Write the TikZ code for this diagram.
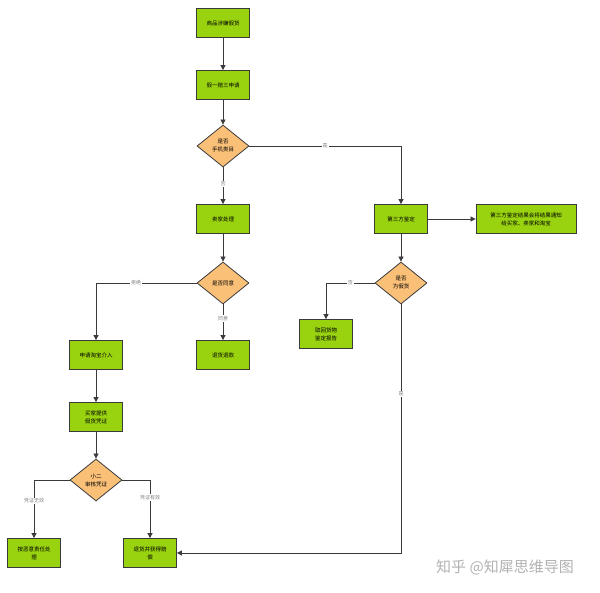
\documentclass[tikz,border=0pt]{standalone}
\usepackage{fontspec}
\setmainfont{Noto Sans CJK SC}
\usetikzlibrary{shapes.geometric,arrows.meta}
\definecolor{boxg}{HTML}{99D30F}
\definecolor{dia}{HTML}{FAC078}
\definecolor{ln}{HTML}{3A3A3A}
\tikzset{
 box/.style={draw=ln,line width=0.8pt,fill=boxg,minimum width=53pt,minimum height=29pt,align=center,font=\fontsize{5.5}{8}\selectfont,inner sep=1pt},
 dec/.style={draw=ln,line width=0.8pt,fill=dia,diamond,aspect=1.25,minimum width=52pt,minimum height=42pt,inner sep=0pt,align=center,font=\fontsize{5.5}{8}\selectfont},
 arr/.style={draw=ln,line width=0.7pt,-{Triangle[length=5pt,width=5pt]}},
 lab/.style={fill=white,inner sep=1pt,text=gray,font=\fontsize{5}{6}\selectfont}
}
\begin{document}
\begin{tikzpicture}[x=1pt,y=-1pt]
\useasboundingbox (0,0) rectangle (600,592);
\node[box] (a) at (223,23) {商品涉嫌假货};
\node[box] (b) at (223,85) {假一赔三申请};
\node[dec] (d1) at (223,146) {是否\\手机类目};
\node[box] (c) at (223,219) {卖家处理};
\node[dec] (d2) at (223,283) {是否同意};
\node[box] (r) at (223,355) {退货退款};
\node[box] (t) at (96,355) {申请淘宝介入};
\node[box] (p) at (96,417) {买家提供\\假货凭证};
\node[dec] (d3) at (96,480) {小二\\审核凭证};
\node[box] (f) at (34,553) {按恶意责任处\\理};
\node[box] (g) at (150,553) {退货并获得赔\\偿};
\node[box] (s) at (401,219) {第三方鉴定};
\node[box,minimum width=100pt] (n) at (526,219) {第三方鉴定结果会将结果通知\\给买家、卖家和淘宝};
\node[dec] (d4) at (401,283) {是否\\为假货};
\node[box] (q) at (326,334) {取回货物\\鉴定报告};
\node[text=gray!60,font=\fontsize{15}{18}\selectfont] (w) at (505,567) {知乎 @知犀思维导图};
\draw[arr] (a) -- (b);
\draw[arr] (b) -- (d1);
\draw[arr] (d1) -- node[lab,pos=0.45]{否} (c);
\draw[arr] (d1) -- node[lab,pos=0.5]{是} (401,146) -- (s);
\draw[arr] (c) -- (d2);
\draw[arr] (d2) -- node[lab,pos=0.4]{同意} (r);
\draw[arr] (d2) -- node[lab,pos=0.6]{拒绝} (96,283) -- (t);
\draw[arr] (t) -- (p);
\draw[arr] (p) -- (d3);
\draw[arr] (d3.west) -- (34,480) -- node[lab,pos=0.36]{凭证无效} (f);
\draw[arr] (d3.east) -- (150,480) -- node[lab,pos=0.3]{凭证有效} (g);
\draw[arr] (s) -- (n);
\draw[arr] (s) -- (d4);
\draw[arr] (d4) -- node[lab,pos=0.5]{否} (326,283) -- (q);
\draw[arr] (d4) -- node[lab,pos=0.36]{是} (401,553) -- (g);
\end{tikzpicture}
\end{document}
